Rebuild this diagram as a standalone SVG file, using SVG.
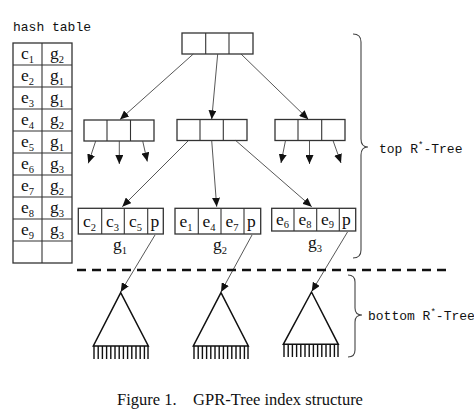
<svg xmlns="http://www.w3.org/2000/svg" width="474" height="411" viewBox="0 0 474 411">
<defs>
<style>
.box{fill:none;stroke:#333;stroke-width:1.3}
.div{stroke:#333;stroke-width:1.1}
.conn{fill:none;stroke:#444;stroke-width:0.9}
.tri{fill:none;stroke:#111;stroke-width:1.5}
.teeth{stroke:#111;stroke-width:1.4}
.mono{font-family:"Liberation Mono","DejaVu Sans Mono",monospace;font-size:13px;fill:#111}
.ser{font-family:"Liberation Serif","Times New Roman",serif;font-size:17.5px;fill:#111}
.sub{font-size:10.5px}
.cap{font-family:"Liberation Serif","Times New Roman",serif;font-size:16.5px;fill:#111}
.brace{fill:none;stroke:#444;stroke-width:1.1}
</style>
<marker id="ah" markerUnits="userSpaceOnUse" markerWidth="10" markerHeight="8" refX="9" refY="4" orient="auto">
<path d="M0,0 L9,4 L0,8 z" fill="#111"/>
</marker>
</defs>
<rect width="474" height="411" fill="#fff"/>

<g id="hash-table">
<text class="mono" x="13" y="31">hash table</text>
<rect class="box" x="13" y="43" width="59" height="220"/>
<line class="div" x1="42" y1="43" x2="42" y2="263"/>
<g class="div">
<line x1="13" y1="65" x2="72" y2="65"/><line x1="13" y1="87" x2="72" y2="87"/>
<line x1="13" y1="109" x2="72" y2="109"/><line x1="13" y1="131" x2="72" y2="131"/>
<line x1="13" y1="153" x2="72" y2="153"/><line x1="13" y1="175" x2="72" y2="175"/>
<line x1="13" y1="197" x2="72" y2="197"/><line x1="13" y1="219" x2="72" y2="219"/>
<line x1="13" y1="241" x2="72" y2="241"/>
</g>
<g class="ser">
<text x="21" y="59">c<tspan class="sub" dy="4">1</tspan></text><text x="50" y="59">g<tspan class="sub" dy="4">2</tspan></text>
<text x="21" y="81">e<tspan class="sub" dy="4">2</tspan></text><text x="50" y="81">g<tspan class="sub" dy="4">1</tspan></text>
<text x="21" y="103">e<tspan class="sub" dy="4">3</tspan></text><text x="50" y="103">g<tspan class="sub" dy="4">1</tspan></text>
<text x="21" y="125">e<tspan class="sub" dy="4">4</tspan></text><text x="50" y="125">g<tspan class="sub" dy="4">2</tspan></text>
<text x="21" y="147">e<tspan class="sub" dy="4">5</tspan></text><text x="50" y="147">g<tspan class="sub" dy="4">1</tspan></text>
<text x="21" y="169">e<tspan class="sub" dy="4">6</tspan></text><text x="50" y="169">g<tspan class="sub" dy="4">3</tspan></text>
<text x="21" y="191">e<tspan class="sub" dy="4">7</tspan></text><text x="50" y="191">g<tspan class="sub" dy="4">2</tspan></text>
<text x="21" y="213">e<tspan class="sub" dy="4">8</tspan></text><text x="50" y="213">g<tspan class="sub" dy="4">3</tspan></text>
<text x="21" y="235">e<tspan class="sub" dy="4">9</tspan></text><text x="50" y="235">g<tspan class="sub" dy="4">3</tspan></text>
</g>
</g>

<g id="root">
<rect class="box" x="182" y="33" width="71" height="21"/>
<line class="div" x1="205.7" y1="33" x2="205.7" y2="54"/>
<line class="div" x1="229" y1="33" x2="229" y2="54"/>
</g>

<g id="node-left">
<rect class="box" x="84" y="120" width="70" height="21"/>
<line class="div" x1="107" y1="120" x2="107" y2="141"/>
<line class="div" x1="130.5" y1="120" x2="130.5" y2="141"/>
</g>

<g id="node-mid">
<rect class="box" x="177" y="119.5" width="70" height="21"/>
<line class="div" x1="200" y1="119.5" x2="200" y2="140.5"/>
<line class="div" x1="223.3" y1="119.5" x2="223.3" y2="140.5"/>
</g>

<g id="node-right">
<rect class="box" x="275" y="119.5" width="70" height="21"/>
<line class="div" x1="298" y1="119.5" x2="298" y2="140.5"/>
<line class="div" x1="321.7" y1="119.5" x2="321.7" y2="140.5"/>
</g>

<g id="leaf-g1">
<rect class="box" x="78.3" y="208.3" width="85" height="25.7"/>
<line class="div" x1="101.7" y1="208.3" x2="101.7" y2="234"/>
<line class="div" x1="124.3" y1="208.3" x2="124.3" y2="234"/>
<line class="div" x1="147.7" y1="208.3" x2="147.7" y2="234"/>
<g class="ser">
<text x="83" y="227">c<tspan class="sub" dy="3.5">2</tspan></text>
<text x="106" y="227">c<tspan class="sub" dy="3.5">3</tspan></text>
<text x="129" y="227">c<tspan class="sub" dy="3.5">5</tspan></text>
<text x="150.5" y="227">p</text>
<text x="113" y="250">g<tspan class="sub" dy="3.5">1</tspan></text>
</g>
</g>

<g id="leaf-g2">
<rect class="box" x="175" y="208.3" width="85.7" height="25.7"/>
<line class="div" x1="198.3" y1="208.3" x2="198.3" y2="234"/>
<line class="div" x1="221" y1="208.3" x2="221" y2="234"/>
<line class="div" x1="244" y1="208.3" x2="244" y2="234"/>
<g class="ser">
<text x="179.5" y="227">e<tspan class="sub" dy="3.5">1</tspan></text>
<text x="202.5" y="227">e<tspan class="sub" dy="3.5">4</tspan></text>
<text x="225.5" y="227">e<tspan class="sub" dy="3.5">7</tspan></text>
<text x="247" y="227">p</text>
<text x="213" y="250">g<tspan class="sub" dy="3.5">2</tspan></text>
</g>
</g>

<g id="leaf-g3">
<rect class="box" x="271.7" y="208.3" width="84" height="22.7"/>
<line class="div" x1="294" y1="208.3" x2="294" y2="231"/>
<line class="div" x1="316.7" y1="208.3" x2="316.7" y2="231"/>
<line class="div" x1="339.3" y1="208.3" x2="339.3" y2="231"/>
<g class="ser">
<text x="276" y="225">e<tspan class="sub" dy="3">6</tspan></text>
<text x="298.5" y="225">e<tspan class="sub" dy="3">8</tspan></text>
<text x="321" y="225">e<tspan class="sub" dy="3">9</tspan></text>
<text x="342" y="225">p</text>
<text x="308" y="248">g<tspan class="sub" dy="3.5">3</tspan></text>
</g>
</g>

<g id="subtree-1">
<path class="tri" d="M120.7,292.7 L93.3,346 L148.3,346 Z"/>
<path class="teeth" d="M94,346V359M98.2,346V359M102.4,346V359M106.6,346V359M110.8,346V359M115,346V359M119.2,346V359M123.4,346V359M127.6,346V359M131.8,346V359M136,346V359M140.2,346V359M144.4,346V359M148,346V359"/>
</g>
<g id="subtree-2">
<path class="tri" d="M221,292.7 L193.3,346 L248.3,346 Z"/>
<path class="teeth" d="M194,346V359M198.2,346V359M202.4,346V359M206.6,346V359M210.8,346V359M215,346V359M219.2,346V359M223.4,346V359M227.6,346V359M231.8,346V359M236,346V359M240.2,346V359M244.4,346V359M248,346V359"/>
</g>
<g id="subtree-3">
<path class="tri" d="M311.5,292 L283.3,344.3 L338.3,344.3 Z"/>
<path class="teeth" d="M284,344.3V357M288.2,344.3V357M292.4,344.3V357M296.6,344.3V357M300.8,344.3V357M305,344.3V357M309.2,344.3V357M313.4,344.3V357M317.6,344.3V357M321.8,344.3V357M326,344.3V357M330.2,344.3V357M334.4,344.3V357M338,344.3V357"/>
</g>

<g id="connectors">
<line class="conn" x1="193.3" y1="54" x2="120" y2="119.5" marker-end="url(#ah)"/>
<line class="conn" x1="217.7" y1="54" x2="211.7" y2="119.3" marker-end="url(#ah)"/>
<line class="conn" x1="241" y1="54" x2="308.3" y2="119.3" marker-end="url(#ah)"/>
<line class="conn" x1="95.7" y1="141" x2="88.3" y2="163.3" marker-end="url(#ah)"/>
<line class="conn" x1="119.3" y1="141" x2="119.3" y2="164" marker-end="url(#ah)"/>
<line class="conn" x1="142.7" y1="141" x2="147.3" y2="161.5" marker-end="url(#ah)"/>
<line class="conn" x1="285.5" y1="140.5" x2="281" y2="163" marker-end="url(#ah)"/>
<line class="conn" x1="309.5" y1="140.5" x2="309.5" y2="164" marker-end="url(#ah)"/>
<line class="conn" x1="333" y1="140.5" x2="341" y2="163" marker-end="url(#ah)"/>
<line class="conn" x1="188.5" y1="140.5" x2="122.3" y2="206.7" marker-end="url(#ah)"/>
<line class="conn" x1="211.7" y1="140.5" x2="216.7" y2="206.7" marker-end="url(#ah)"/>
<line class="conn" x1="235.7" y1="140.5" x2="311.7" y2="206.7" marker-end="url(#ah)"/>
<line class="conn" x1="155" y1="235" x2="120.7" y2="292" marker-end="url(#ah)"/>
<line class="conn" x1="252" y1="235" x2="221" y2="292" marker-end="url(#ah)"/>
<line class="conn" x1="347.5" y1="232" x2="311.7" y2="291.5" marker-end="url(#ah)"/>
</g>

<g id="separator">
<line x1="77" y1="270" x2="452" y2="270" stroke="#111" stroke-width="2.6" stroke-dasharray="9,6"/>
</g>

<g id="top-brace">
<path class="brace" d="M353,34 Q361,34 361,42 L361,139 Q361,147 368,147 Q361,147 361,155 L361,250 Q361,258 353,258"/>
<text class="mono" x="379" y="153">top R<tspan font-size="9" dy="-5">*</tspan><tspan dy="5">-Tree</tspan></text>
</g>

<g id="bottom-brace">
<path class="brace" d="M348,275 Q355,275 355,282 L355,308 Q355,315 362,315 Q355,315 355,322 L355,350 Q355,357 348,357"/>
<text class="mono" x="368" y="320">bottom R<tspan font-size="9" dy="-5">*</tspan><tspan dy="5">-Tree</tspan></text>
</g>

<text class="cap" x="117" y="405" xml:space="preserve">Figure 1.    GPR-Tree index structure</text>
</svg>
